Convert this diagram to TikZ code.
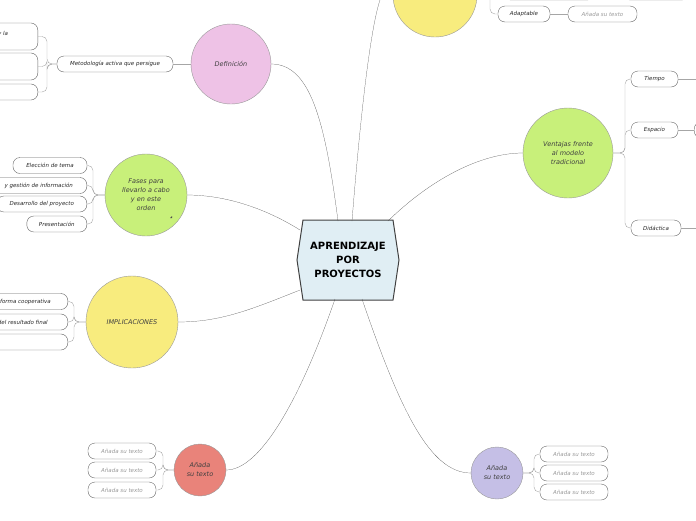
\documentclass[tikz,border=0pt]{standalone}
\usepackage{fontspec}
\setmainfont{DejaVu Sans}
\usetikzlibrary{shapes.geometric}
\definecolor{cpink}{HTML}{EEC2E6}
\definecolor{cgreen}{HTML}{C8F07A}
\definecolor{cyel}{HTML}{F8EC7E}
\definecolor{cred}{HTML}{E9837A}
\definecolor{cpur}{HTML}{C5BFE6}
\definecolor{cblue}{HTML}{E0EEF4}
\begin{document}
\begin{tikzpicture}[x=1pt,y=-1pt,
  pill/.style={draw=black!60,rounded corners=7pt,fill=white,font=\itshape\fontsize{5.5}{6}\selectfont,inner sep=0pt,minimum height=16pt,text=black!85},
  gpill/.style={pill,text=black!40},
  topic/.style={circle,draw=black!40,font=\itshape\fontsize{6.5}{9}\selectfont,align=center,text=black!75},
  main/.style={very thin,black!70},
  sub/.style={black!35,rounded corners=5pt}]
\useasboundingbox (0,0) rectangle (696,520);
% central
\draw[draw=black!75,line width=1pt,fill=cblue] (303,220) -- (393,220) -- (399,260) -- (393,300) -- (303,300) -- (297,260) -- cycle;
\node[font=\bfseries\fontsize{10}{14}\selectfont,align=center] (ct) at (348,260) {APRENDIZAJE\\POR\\PROYECTOS};
\coordinate (t1) at (338,221); \coordinate (t2) at (352,221); \coordinate (t3) at (388,221);
\coordinate (l1) at (300,230); \coordinate (l2) at (300,290);
\coordinate (b1) at (335,299); \coordinate (b2) at (362,299);
% topics
\node[topic,fill=cpink,minimum size=80pt] (def) at (231,64) {Definición};
\node[topic,fill=cgreen,minimum size=82pt] (fas) at (146,195) {Fases para\\llevarlo a cabo\\y en este\\orden};
\node[topic,fill=cyel,minimum size=92pt] (imp) at (132,322) {IMPLICACIONES};
\node[topic,fill=cred,minimum size=52pt] (red) at (200,470) {Añada\\su texto};
\node[topic,fill=cpur,minimum size=52pt] (pur) at (497,473) {Añada\\su texto};
\node[topic,fill=cgreen,minimum size=90pt] (ven) at (568,153) {Ventajas frente\\al modelo\\tradicional};
\node[topic,fill=cyel,minimum size=84pt] (top) at (435,-5) {};
\fill[black!70] (170,218) -- (172,216) -- (172,218) -- cycle;
% main connectors
\draw[main] (t1) .. controls (325,120) and (310,64) .. (def.east);
\draw[main] (t2) .. controls (360,120) and (370,30) .. (380,0);
\draw[main] (t3) .. controls (430,180) and (480,153) .. (ven.west);
\draw[main] (l1) .. controls (260,205) and (220,195) .. (fas.east);
\draw[main] (l2) .. controls (250,310) and (220,322) .. (imp.east);
\draw[main] (b1) .. controls (300,400) and (260,470) .. (red.east);
\draw[main] (b2) .. controls (400,410) and (430,473) .. (pur.west);
% Definición
\node[pill,minimum width=116pt] (met) at (115,64) {Metodología activa que persigue};
\draw[sub] (def.west) -- (met.east);
\node[pill,minimum width=76pt,minimum height=27pt,anchor=east,text depth=0pt] (d1) at (38,36.5) {\raisebox{7pt}{ía y la}};
\node[pill,minimum width=76pt,minimum height=27pt,anchor=east] (d2) at (38,66.5) {};
\node[pill,minimum width=76pt,anchor=east] (d3) at (38,92) {};
\foreach \p in {d1,d2,d3} \draw[sub] (met.west) -- (47,64) |- (\p.east);
% Fases
\node[pill,minimum width=74pt] (f1) at (50,165.5) {Elección de tema};
\node[pill,minimum width=96pt,anchor=east] (f2) at (87,185.5) {y gestión de información};
\node[pill,minimum width=90pt,anchor=east] (f3) at (87,204) {Desarrollo del proyecto};
\node[pill,minimum width=60pt,anchor=east] (f4) at (87,224) {Presentación};
\foreach \p in {f1,f2,f3,f4} \draw[sub] (fas.west) -- (93,195) |- (\p.east);
% Implicaciones
\node[pill,minimum width=90pt,anchor=east] (i1) at (68,301.5) {n forma cooperativa};
\node[pill,minimum width=90pt,anchor=east] (i2) at (68,322) {del resultado final};
\node[pill,minimum width=90pt,anchor=east] (i3) at (68,342) {};
\foreach \p in {i1,i2,i3} \draw[sub] (imp.west) -- (74,322) |- (\p.east);
% red
\node[gpill,minimum width=68pt] (r1) at (122,451) {Añada su texto};
\node[gpill,minimum width=68pt] (r2) at (122,470) {Añada su texto};
\node[gpill,minimum width=68pt] (r3) at (122,490) {Añada su texto};
\foreach \p in {r1,r2,r3} \draw[sub] (red.west) -- (163,470) |- (\p.east);
% purple
\node[gpill,minimum width=68pt] (p1) at (574,454) {Añada su texto};
\node[gpill,minimum width=68pt] (p2) at (574,473) {Añada su texto};
\node[gpill,minimum width=68pt] (p3) at (574,492) {Añada su texto};
\foreach \p in {p1,p2,p3} \draw[sub] (pur.east) -- (534,473) |- (\p.west);
% Ventajas
\node[pill,minimum width=47pt] (v1) at (654.5,79) {Tiempo};
\node[pill,minimum width=47pt] (v2) at (654.5,130) {Espacio};
\node[pill,minimum width=50pt] (v3) at (656,228) {Didáctica};
\foreach \p in {v1,v2,v3} \draw[sub] (ven.east) -- (625,153) |- (\p.west);
\coordinate (e1) at (696,79); \coordinate (e3) at (696,228);
\draw[sub] (v1.east) -- (e1); \draw[sub] (v3.east) -- (e3);
\node[pill,minimum width=20pt,anchor=west] (v2b) at (694,130) {};
\draw[sub] (v2.east) -- (v2b.west);
% top
\node[pill,minimum width=92pt,anchor=south] (tp1) at (549,0) {};
\node[pill,minimum width=67pt,anchor=south] (tp2) at (656,0) {};
\node[pill,minimum width=52pt] (ad) at (524,14) {Adaptable};
\node[gpill,minimum width=69pt] (ad2) at (602.5,14) {Añada su texto};
\draw[sub] (top.east) -- (490,-5) |- (ad.west);
\draw[sub] (ad.east) -- (ad2.west);
\end{tikzpicture}
\end{document}
